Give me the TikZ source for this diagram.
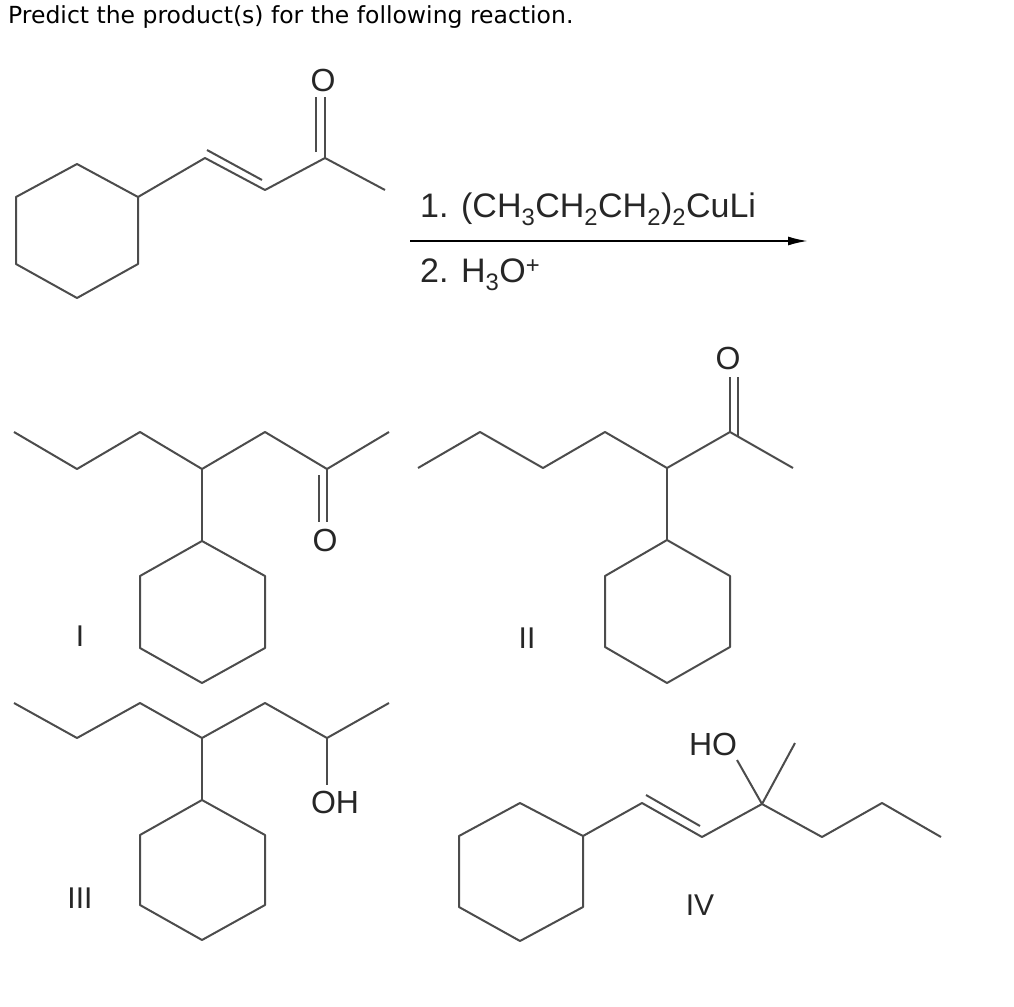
\documentclass[tikz,border=0pt]{standalone}
\usepackage{fontspec}
\setmainfont{Liberation Sans}
\newfontfamily\titlefont{DejaVu Sans}
\usetikzlibrary{arrows.meta}
\newcommand{\sbs}[1]{\textsubscript{#1}}
\begin{document}
\begin{tikzpicture}[x=1pt,y=-1pt,
  bond/.style={draw=black!70,line width=2pt,line join=round},
  atom/.style={inner sep=1pt,font=\fontsize{32}{32}\selectfont,text=black!85},
  lbl/.style={inner sep=0pt,font=\fontsize{30}{30}\selectfont,text=black!85},
  reag/.style={inner sep=0pt,font=\fontsize{34}{34}\selectfont,text=black!85}]
\useasboundingbox (0,0) rectangle (1014,1006);
\node[anchor=north west,inner sep=0pt,font=\titlefont\fontsize{23.5}{24}\selectfont] (title) at (8,5) {Predict the product(s) for the following reaction.};
% starting material
\draw[bond] (77,164)--(138,197)--(138,264)--(77,298)--(16,264)--(16,197)--cycle;
\draw[bond] (138,197)--(205,158)--(265,190)--(325,158)--(385,190);
\draw[bond] (207,150)--(262,180);
\node[atom] (o0) at (323,80) {O};
\draw[bond] (325,158)--(325,97);
\draw[bond] (316,152)--(316,97);
% arrow
\coordinate (a1) at (410,241); \coordinate (a2) at (808,241);
\draw[line width=2pt,-{Latex[length=20pt,width=9pt]}] (a1)--(a2);
\node[reag,anchor=west] (r1) at (420,209) {1. (CH\sbs{3}CH\sbs{2}CH\sbs{2})\sbs{2}CuLi};
\node[reag,anchor=west] (r2) at (420,275) {2. H\sbs{3}O\textsuperscript{+}};
% I
\draw[bond] (14,432)--(77,469)--(140,432)--(202,469)--(265,432)--(327,469)--(389,432);
\draw[bond] (202,469)--(202,541);
\draw[bond] (202,541)--(265,576)--(265,648)--(202,683)--(140,648)--(140,576)--cycle;
\draw[bond] (327,469)--(327,522);
\draw[bond] (319,475)--(319,522);
\node[atom] (o1) at (325,540) {O};
\node[lbl] (L1) at (80,636) {I};
% II
\draw[bond] (418,468)--(480,432)--(543,468)--(605,432)--(667,468)--(730,432)--(793,468);
\draw[bond] (667,468)--(667,540);
\draw[bond] (667,540)--(730,576)--(730,647)--(667,683)--(605,647)--(605,576)--cycle;
\draw[bond] (730,432)--(730,377);
\draw[bond] (738,437)--(738,377);
\node[atom] (o2) at (728,358) {O};
\node[lbl] (L2) at (527,638) {II};
% III
\draw[bond] (14,703)--(77,738)--(140,703)--(202,738)--(265,703)--(327,738)--(389,703);
\draw[bond] (202,738)--(202,800);
\draw[bond] (202,800)--(265,835)--(265,905)--(202,940)--(140,905)--(140,835)--cycle;
\draw[bond] (327,738)--(327,785);
\node[atom] (oh3) at (335,802) {OH};
\node[lbl] (L3) at (80,898) {III};
% IV
\draw[bond] (520,803)--(583,836)--(583,907)--(520,941)--(459,907)--(459,836)--cycle;
\draw[bond] (583,836)--(642,803)--(702,837)--(762,804)--(822,837)--(882,803)--(941,837);
\draw[bond] (646,795)--(700,826);
\draw[bond] (762,804)--(795,743);
\draw[bond] (762,804)--(737,760);
\node[atom] (ho4) at (713,744) {HO};
\node[lbl] (L4) at (700,905) {IV};
\end{tikzpicture}
\end{document}
